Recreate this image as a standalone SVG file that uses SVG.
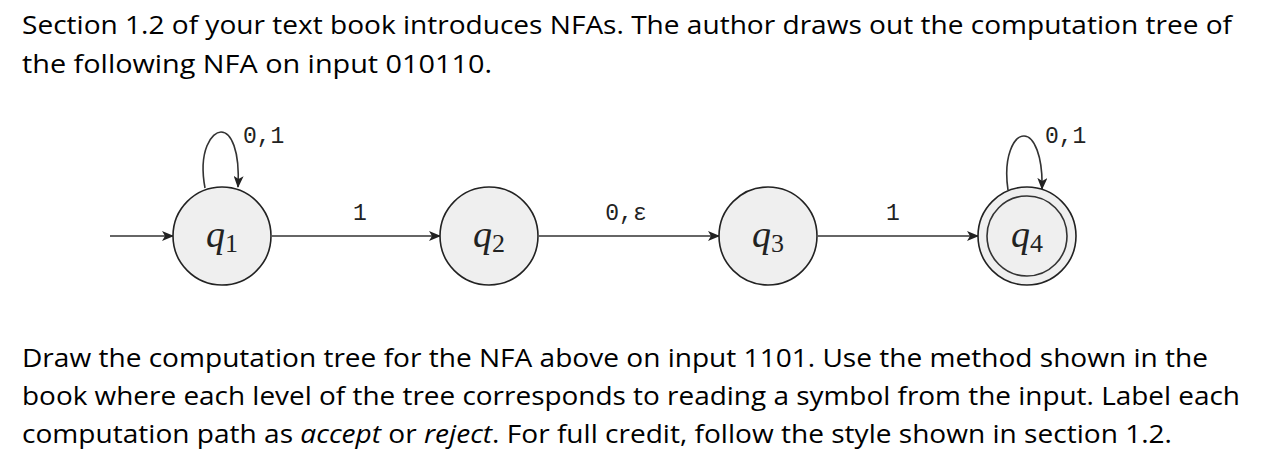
<svg xmlns="http://www.w3.org/2000/svg" width="1264" height="475" viewBox="0 0 1264 475">
<style>
.t{font-family:"Open Sans","Noto Sans",sans-serif;font-size:26px;fill:#000}
.st{fill:#efefef;stroke:#222;stroke-width:1.6}
.lbl{font-family:"Liberation Serif",serif;font-style:italic;font-size:38px;fill:#222}
.sub{font-style:normal;font-size:26px}
.e{font-family:"Liberation Mono","DejaVu Sans Mono",monospace;font-size:23px;fill:#222}
.c{fill:none;stroke:#333;stroke-width:1.6}
</style>
<defs>
<marker id="ah" viewBox="0 0 12 10" refX="11" refY="5" markerWidth="12" markerHeight="10" markerUnits="userSpaceOnUse" orient="auto">
<path d="M0,0 L12,5 L0,10 L3,5 Z" fill="#222"/>
</marker>
</defs>
<rect width="1264" height="475" fill="#fff"/>
<g id="text">
<text class="t" x="22" y="34" textLength="1210" lengthAdjust="spacingAndGlyphs">Section 1.2 of your text book introduces NFAs. The author draws out the computation tree of</text>
<text class="t" x="22" y="73" textLength="470" lengthAdjust="spacingAndGlyphs">the following NFA on input 010110.</text>
<text class="t" x="22" y="367" textLength="1186" lengthAdjust="spacingAndGlyphs">Draw the computation tree for the NFA above on input 1101. Use the method shown in the</text>
<text class="t" x="22" y="405" textLength="1218" lengthAdjust="spacingAndGlyphs">book where each level of the tree corresponds to reading a symbol from the input. Label each</text>
<text class="t" x="22" y="443" textLength="1150" lengthAdjust="spacingAndGlyphs">computation path as <tspan font-style="italic">accept</tspan> or <tspan font-style="italic">reject</tspan>. For full credit, follow the style shown in section 1.2.</text>
</g>
<g id="connectors">
<line class="c" x1="110" y1="236" x2="173" y2="236" marker-end="url(#ah)"/>
<line class="c" x1="272" y1="236" x2="440" y2="236" marker-end="url(#ah)"/>
<line class="c" x1="539" y1="236" x2="719" y2="236" marker-end="url(#ah)"/>
<line class="c" x1="818" y1="236" x2="978" y2="236" marker-end="url(#ah)"/>
<path class="c" d="M205,188 C198,150 212,132 221,132 C231,132 240,150 238,187" marker-end="url(#ah)"/>
<path class="c" d="M1008,190 C1003,156 1014,136 1024,136 C1034,136 1043,156 1042,189" marker-end="url(#ah)"/>
<text class="e" x="360" y="220" text-anchor="middle">1</text>
<text class="e" x="626" y="220" text-anchor="middle">0,ε</text>
<text class="e" x="893" y="220" text-anchor="middle">1</text>
<text class="e" x="243" y="143">0,1</text>
<text class="e" x="1045" y="143">0,1</text>
</g>
<g id="q1">
<circle class="st" cx="222" cy="236" r="49"/>
<text class="lbl" x="222" y="247" text-anchor="middle">q<tspan class="sub" dy="5">1</tspan></text>
</g>
<g id="q2">
<circle class="st" cx="489" cy="236" r="49"/>
<text class="lbl" x="489" y="247" text-anchor="middle">q<tspan class="sub" dy="5">2</tspan></text>
</g>
<g id="q3">
<circle class="st" cx="768" cy="236" r="49"/>
<text class="lbl" x="768" y="247" text-anchor="middle">q<tspan class="sub" dy="5">3</tspan></text>
</g>
<g id="q4">
<circle class="st" cx="1027" cy="236" r="49"/>
<circle class="c" cx="1027" cy="236" r="40"/>
<text class="lbl" x="1027" y="247" text-anchor="middle">q<tspan class="sub" dy="5">4</tspan></text>
</g>
</svg>
